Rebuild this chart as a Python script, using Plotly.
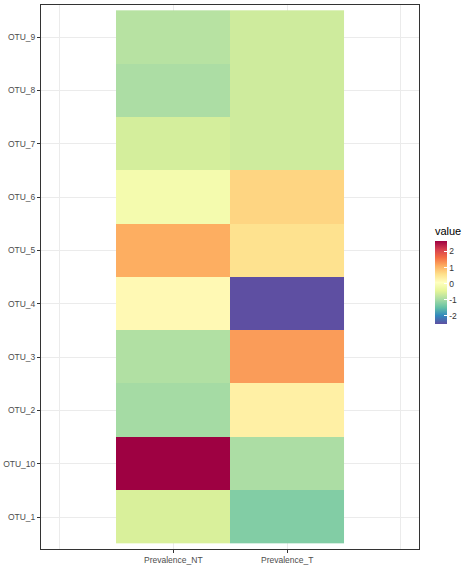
import plotly.graph_objs as go

# OTU order as on the y axis (bottom to top)
otus = ["OTU_1", "OTU_10", "OTU_2", "OTU_3", "OTU_4",
        "OTU_5", "OTU_6", "OTU_7", "OTU_8", "OTU_9"]
samples = ["Prevalence_NT", "Prevalence_T"]
sample_pos = [1, 2]

prevalence_nt = [-0.55, 2.65, -1.0, -0.9, 0.18, 1.1, -0.15, -0.6, -0.95, -0.85]
prevalence_t = [-1.26, -0.95, 0.33, 1.25, -2.5, 0.55, 0.7, -0.65, -0.65, -0.65]

legend_ticks = [-2, -1, 0, 1, 2]
legend_labels = ["-2", "-1", "0", "1", "2"]

z = [[a, b] for a, b in zip(prevalence_nt, prevalence_t)]

grid = "#EBEBEB"
fam = "Liberation Sans, Arial, sans-serif"
axis_text = dict(family=fam, size=8.5, color="#4D4D4D")

trace = go.Heatmap(
    x=sample_pos,
    y=otus,
    z=z,
    colorscale="Spectral_r",
    hoverinfo="skip",
    colorbar=dict(
        title=dict(text="value", side="top",
                   font=dict(family=fam, size=11, color="black")),
        tickvals=legend_ticks,
        ticktext=legend_labels,
        ticks="inside", ticklen=3, tickcolor="white",
        tickfont=dict(family=fam, size=8.5, color="#333333"),
        thickness=12,
        lenmode="pixels", len=100,
        x=1.042, xanchor="left", xpad=0,
        y=(549 - 324) / 544, yanchor="bottom", ypad=0,
        outlinewidth=0,
    ),
)

# x tick labels as annotations so they sit close to the axis like ggplot
labels = [
    dict(x=p, y=0, xref="x", yref="paper", text=s, showarrow=False,
         yanchor="top", yshift=-4, font=axis_text)
    for p, s in zip(sample_pos, samples)
]

layout = go.Layout(
    width=474,
    height=567,
    margin=dict(l=41, r=55, t=5, b=18, autoexpand=False),
    paper_bgcolor="white",
    plot_bgcolor="white",
    annotations=labels,
    xaxis=dict(
        range=[-0.158, 3.158],
        tickmode="array",
        tickvals=sample_pos,
        showticklabels=False,
        showgrid=True, gridcolor=grid, gridwidth=1,
        minor=dict(tickmode="array", tickvals=[0, 3], showgrid=True,
                   gridcolor=grid, ticks=""),
        ticks="outside", ticklen=3, tickcolor="#333333",
        showline=True, linecolor="#333333", linewidth=1, mirror=True,
        zeroline=False,
    ),
    yaxis=dict(
        range=[-0.6, 9.6],
        showgrid=True, gridcolor=grid, gridwidth=1,
        ticks="outside", ticklen=3, tickcolor="#333333",
        tickfont=axis_text,
        showline=True, linecolor="#333333", linewidth=1, mirror=True,
        zeroline=False,
    ),
)

fig = go.Figure(data=[trace], layout=layout)
# drop the default page margin so the 474x567 figure fills the window
fig.write_html("out.html",
               config={"displayModeBar": False},
               post_script="document.body.style.margin='0';"
                           "document.body.style.overflow='hidden';")
